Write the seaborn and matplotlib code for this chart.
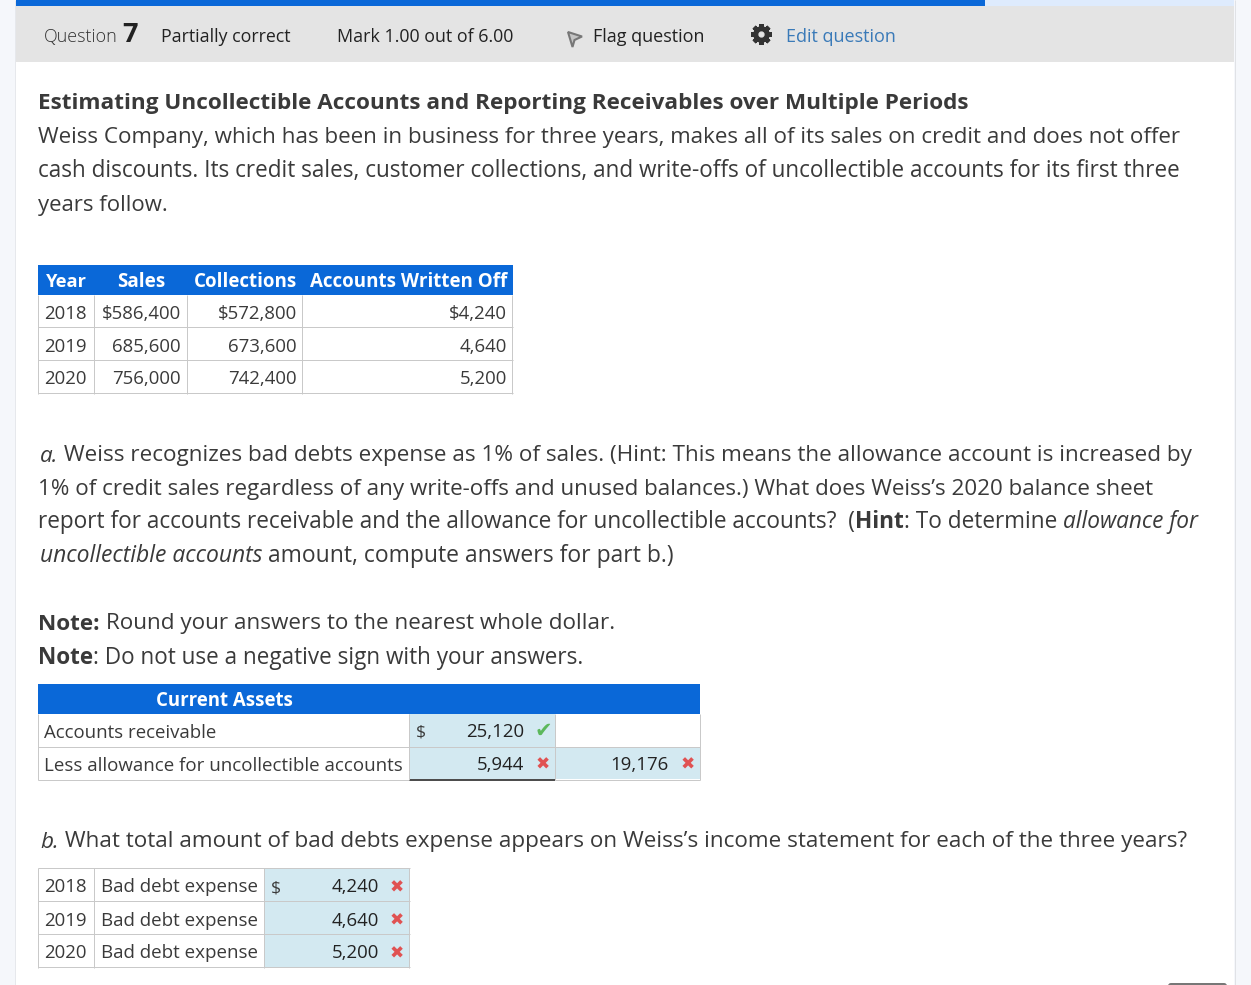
import matplotlib
matplotlib.use('Agg')
import matplotlib.pyplot as plt
from matplotlib.patches import Rectangle, FancyBboxPatch
import numpy as np
import seaborn as sns

sns.set_theme(style='white')
plt.rcParams['font.family'] = ['Open Sans', 'DejaVu Sans']

W, H = 1251, 985
BLUE = '#0a68d8'
TEAL = '#d3e9f1'
GRID = '#c9c9c9'
TXT = '#3a3a3a'
DARK = '#222222'
RED = '#e05252'
GREEN = '#5cb85c'

years = ['2018', '2019', '2020']
sales = ['$586,400', '685,600', '756,000']
collections = ['$572,800', '673,600', '742,400']
written_off = ['$4,240', '4,640', '5,200']
bad_debt = ['4,240', '4,640', '5,200']
assets_labels = ['Accounts receivable', 'Less allowance for uncollectible accounts']
assets_values = ['25,120', '5,944']
net_value = '19,176'


def px(size):
    return size * 72 / 100


fig = plt.figure(figsize=(W / 100, H / 100), dpi=100, facecolor='white')
# page background, heatmap cells and then text, in that order
bg = fig.add_axes([0, 0, 1, 1], zorder=0)
ax = fig.add_axes([0, 0, 1, 1], zorder=5)
for a in (bg, ax):
    a.set_xlim(0, W)
    a.set_ylim(H, 0)
    a.axis('off')
renderer = fig.canvas.get_renderer()


def rect(x0, y0, x1, y1, color, a=bg):
    a.add_patch(Rectangle((x0, y0), x1 - x0, y1 - y0, fc=color, ec='none'))


def hline(x0, x1, y, color=GRID, lw=1):
    ax.plot([x0, x1], [y - 0.5, y - 0.5], color=color, lw=lw * 0.72, zorder=3, solid_capstyle='butt')


def vline(x, y0, y1, color=GRID, lw=1, a=ax):
    a.plot([x - 0.5, x - 0.5], [y0, y1], color=color, lw=lw * 0.72, zorder=3, solid_capstyle='butt')


def put(x, y, s, size=18.6, color=TXT, ha='left', **kw):
    return ax.text(x, y, s, fontsize=px(size), color=color, ha=ha, va='baseline', zorder=5, **kw)


def run(x, y, parts, end, size=24, color=TXT):
    # parts: (text, weight, style) drawn one after the other, sized so the line stops at end
    items = [put(x, y, s, size=size, color=color, fontweight=w, fontstyle=st) for s, w, st in parts]
    total = sum(t.get_window_extent(renderer).width for t in items)
    cur = x
    for t in items:
        t.set_fontsize(t.get_fontsize() * (end - x) / total)
        t.set_x(cur)
        cur += t.get_window_extent(renderer).width


def line(x, y, s, end, color=TXT, weight='normal'):
    run(x, y, [(s, weight, 'normal')], end, color=color)


def mark(x, y, ok=False):
    put(x, y, '\u2714' if ok else '\u2716', size=21 if ok else 17, color=GREEN if ok else RED,
        ha='center', family='DejaVu Sans')


# page frame
rect(0, 0, W, H, '#f5f7fb')
rect(15, 0, 1234, H, 'white')
vline(15.5, 0, H, '#e6e8ec', a=bg)
vline(1235, 0, H, '#e0e2e6', a=bg)
rect(15.5, 0, 985, 6, BLUE)
rect(985, 0, 1234, 6, '#deebfd')
rect(15.5, 6, 1234, 62, '#e4e4e4')

# question header
run(44, 42, [('Question', 'light', 'normal')], 118, color='#333333')
put(122, 42, '7', size=27, color=DARK, fontweight='bold')
line(161, 42, 'Partially correct', 291, color=DARK)
line(337, 42, 'Mark 1.00 out of 6.00', 514.5, color=DARK)
line(593, 42, 'Flag question', 705, color=DARK)
line(786, 42, 'Edit question', 897, color='#3a7ab8')
ax.fill([568, 582, 574.5, 572.5], [32, 36.5, 40, 47], fc='#c4c4c4', ec='#777777', lw=1.5, zorder=5)
ax.plot([761], [34], marker=(8, 2, 0), ms=15, mew=3.2, color='#333333', zorder=5)
ax.plot([761], [34], marker='o', ms=11, color='#333333', zorder=5)
ax.plot([761], [34], marker='o', ms=3.5, color='#e4e4e4', zorder=6)

# question text
line(38, 109.5, 'Estimating Uncollectible Accounts and Reporting Receivables over Multiple Periods', 968, weight='bold')
line(38, 143.5, 'Weiss Company, which has been in business for three years, makes all of its sales on credit and does not offer', 1185)
line(38, 176.5, 'cash discounts. Its credit sales, customer collections, and write-offs of uncollectible accounts for its first three', 1182)
line(38, 210.5, 'years follow.', 168)

# data table
rect(38, 265, 513, 295, BLUE, a=ax)
line(46, 287, 'Year', 87, color='white', weight='bold')
line(117, 287, 'Sales', 165, color='white', weight='bold')
line(194, 287, 'Collections', 297, color='white', weight='bold')
line(310, 287, 'Accounts Written Off', 507, color='white', weight='bold')
row_y = [295, 327.5, 360.5, 393.5]
for y in row_y[1:]:
    hline(38, 513, y)
for x in [38.5, 94.5, 187.5, 302.5, 512.5]:
    vline(x, 295, 393.5)
for i in range(3):
    b = row_y[i] + 24
    put(44.5, b, years[i])
    put(181, b, sales[i], ha='right')
    put(297, b, collections[i], ha='right')
    put(507, b, written_off[i], ha='right')

# part a
run(40, 461.5, [('a.', 'normal', 'italic'),
              (' Weiss recognizes bad debts expense as 1% of sales. (Hint: This means the allowance account is increased by', 'normal', 'normal')], 1193)
line(38, 494.5, '1% of credit sales regardless of any write-offs and unused balances.) What does Weiss\u2019s 2020 balance sheet', 1158)
run(38, 528.5, [('report for accounts receivable and the allowance for uncollectible accounts?  (', 'normal', 'normal'),
              ('Hint', 'bold', 'normal'),
              (': To determine ', 'normal', 'normal'),
              ('allowance for', 'normal', 'italic')], 1203)
run(40, 562.5, [('uncollectible accounts', 'normal', 'italic'),
              (' amount, compute answers for part b.)', 'normal', 'normal')], 673)
run(38, 629.5, [('Note:', 'bold', 'normal'), (' Round your answers to the nearest whole dollar.', 'normal', 'normal')], 615)
run(38, 663.5, [('Note', 'bold', 'normal'), (': Do not use a negative sign with your answers.', 'normal', 'normal')], 585)

# current assets table
rect(38, 684, 700, 714, BLUE, a=ax)
line(156, 706, 'Current Assets', 293, color='white', weight='bold')
ax_a = fig.add_axes([409 / W, 1 - 779 / H, 145.5 / W, 65 / H], zorder=1)
sns.heatmap(np.zeros((2, 1)), cmap=[TEAL], cbar=False, ax=ax_a, xticklabels=False, yticklabels=False,
            linewidths=0)
rect(554.5, 746.5, 699.5, 779, TEAL)
hline(38, 700, 747)
hline(38, 409, 780)
hline(555, 700, 780)
hline(409, 555, 780, DARK, 1.6)
for x in [38.5, 409.5, 555, 700]:
    vline(x, 714, 779.5)
put(44.5, 738, assets_labels[0])
put(44.5, 771, assets_labels[1], size=18.8)
put(416, 737, '$', size=17.5)
put(524.5, 737, assets_values[0], ha='right', color=DARK)
mark(543, 737, ok=True)
put(524.5, 770, assets_values[1], ha='right', color=DARK)
mark(543, 770)
put(669, 770, net_value, ha='right', color=DARK)
mark(688, 770)

# part b
run(40, 847.5, [('b.', 'normal', 'italic'),
              (' What total amount of bad debts expense appears on Weiss\u2019s income statement for each of the three years?', 'normal', 'normal')], 1188)
by = [868.5, 901.5, 934.5, 967.5]
ax_b = fig.add_axes([264 / W, 1 - 967 / H, 145 / W, 99 / H], zorder=1)
sns.heatmap(np.zeros((3, 1)), cmap=[TEAL], cbar=False, ax=ax_b, xticklabels=False, yticklabels=False,
            linewidths=0)
for y in by:
    hline(38, 410, y)
for x in [38.5, 94.5, 264.5, 409.5]:
    vline(x, 868, 967.5)
for i in range(3):
    b = by[i] + 24
    put(44.5, b, years[i])
    put(101, b, 'Bad debt expense', size=18.8)
    put(379.5, b, bad_debt[i], ha='right', color=DARK)
    mark(397, b)
put(271, 892, '$', size=17.5)

# scroll button peeking in at the bottom
ax.add_patch(FancyBboxPatch((1168, 983), 59, 6, boxstyle='round,pad=0,rounding_size=3',
                            fc='#777777', ec='none', zorder=5))

fig.savefig('out.png', dpi=100, facecolor='white')
